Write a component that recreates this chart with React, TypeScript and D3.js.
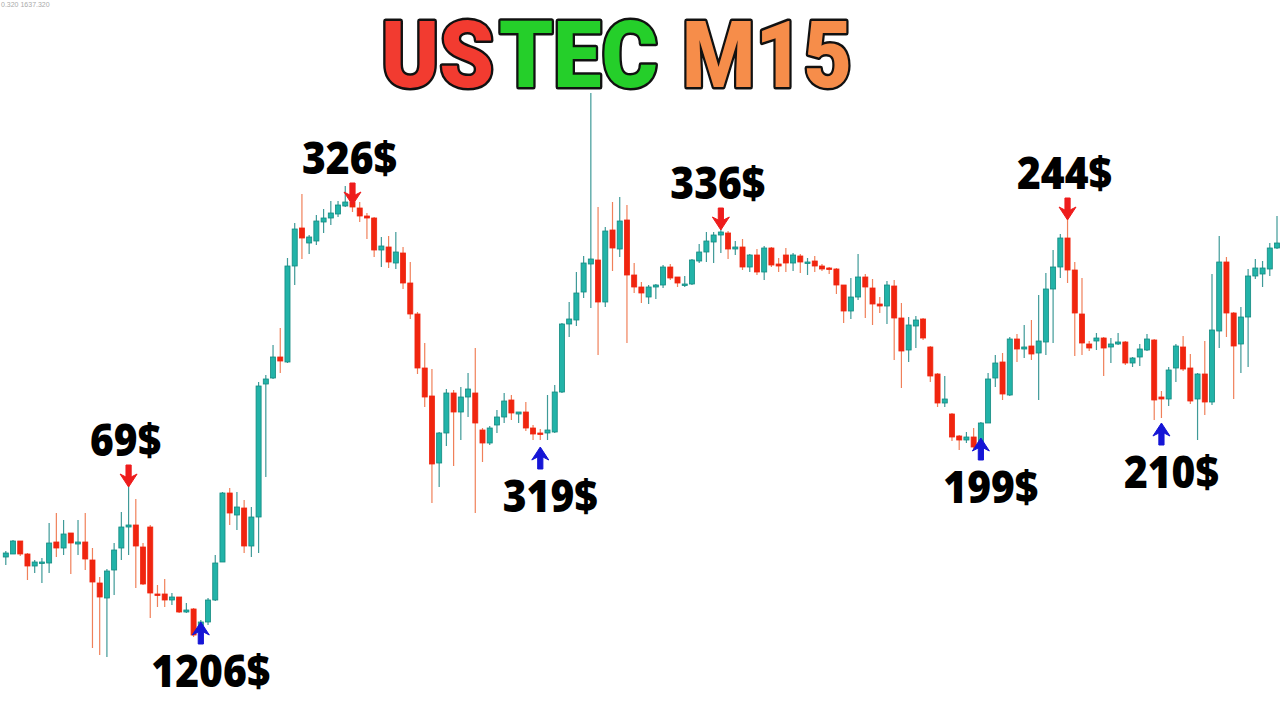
import React from "react";
import * as d3 from "d3";

// Candle levels (chart units: larger = lower on screen)
const opens = [557,554,541,554,566,563,563,542,548,533,544,542,560,583,598,570,548,527,525,547,527,594,594,600,597,612,609,627,622,600,562,493,515,508,546,517,384,378,357,362,266,228,243,241,222,218,214,206,202,208,216,218,250,247,263,253,283,314,368,396,463,433,393,412,397,393,430,443,425,417,400,414,412,428,433,433,432,392,324,320,292,264,260,302,230,249,220,275,287,297,287,285,267,277,284,284,261,252,242,235,233,249,247,267,255,272,248,264,255,263,256,263,261,266,268,269,285,311,297,277,288,304,306,286,318,350,326,319,347,374,403,414,436,440,437,443,423,378,362,395,339,349,346,353,342,289,267,238,270,314,344,341,338,347,344,342,363,357,350,340,397,399,368,347,368,399,374,402,331,262,313,344,317,276,274,269,248];
const highs = [551,540,541,553,560,558,523,513,520,533,520,513,548,577,569,543,512,483,499,543,525,585,579,593,597,603,608,620,598,555,492,488,492,500,507,382,375,345,328,258,223,194,235,215,209,201,201,186,193,202,213,217,237,236,232,247,262,312,343,369,432,389,390,387,373,348,428,426,410,393,395,412,402,425,429,395,385,323,302,272,256,93,207,227,202,197,205,263,282,285,284,265,264,277,276,259,244,232,232,228,231,241,239,254,249,246,247,258,248,253,254,258,256,264,267,268,285,278,254,274,279,297,281,280,303,317,316,318,346,373,376,413,435,432,428,422,373,355,353,337,334,325,320,295,273,250,234,220,262,278,341,333,337,338,333,341,357,344,334,339,391,367,344,336,354,373,341,274,236,257,312,307,269,259,261,243,216];
const lows = [565,554,556,580,573,583,573,557,555,574,555,570,648,655,657,595,560,555,588,585,618,607,607,605,613,613,637,635,625,601,562,525,530,553,557,553,477,379,373,363,285,259,254,245,233,225,217,207,212,222,239,257,267,268,269,289,319,374,407,503,487,446,466,440,417,513,462,445,433,423,420,423,431,440,440,440,433,393,337,326,298,308,355,307,271,257,343,293,303,304,299,288,280,287,287,285,263,262,263,253,259,255,270,272,275,280,267,272,272,271,273,275,272,271,274,294,323,319,300,318,325,313,324,360,388,362,348,340,382,407,407,441,450,443,450,447,423,387,400,396,362,358,360,400,355,343,278,283,356,355,351,350,376,363,345,365,367,366,351,420,418,406,382,371,404,440,415,405,348,337,399,373,367,279,287,276,249];
const closes = [553,541,554,566,562,562,543,548,534,543,542,559,582,597,571,550,527,525,546,584,593,595,600,597,612,610,635,622,600,563,493,513,507,546,517,386,379,357,361,266,229,238,237,221,218,213,205,202,207,216,218,250,246,262,252,283,314,368,397,464,433,393,412,397,389,423,443,428,417,401,413,412,428,434,434,430,392,324,319,293,263,259,302,231,248,221,275,287,293,287,285,267,278,283,284,260,252,241,235,232,249,247,267,255,272,248,265,266,263,255,262,262,266,269,269,285,311,297,277,287,304,306,285,318,351,325,320,338,376,403,399,437,440,437,447,423,379,363,394,339,349,347,354,341,289,267,238,270,313,343,348,338,348,344,342,363,358,349,339,400,399,370,346,369,401,374,402,330,262,313,346,317,276,268,268,248,243];

// Signals
const sellIndex = [17, 48, 99, 147];
const sellArrowTip = [487, 205, 230, 220];
const sellLabels = ["69$", "326$", "336$", "244$"];
const buyIndex = [27, 74, 135, 160];
const buyArrowTip = [622, 447, 438, 423];
const buyLabels = ["1206$", "319$", "199$", "210$"];

const titleParts = [
  { text: "US", color: "#f23b30", x: 381, len: 113 },
  { text: "TEC", color: "#25cf2a", x: 499, len: 159 },
  { text: "M15", color: "#f68d4a", x: 682, len: 170 },
];

const W = 1280, H = 720;
const TEAL = "#22b3a8", TEAL_DARK = "#138a80", TEAL_WICK = "#3f9a98";
const RED = "#f0250f", RED_WICK = "#f0805a";

function DownArrow({ x, tip }: { x: number; tip: number }) {
  const h = 22, w = 17, s = 2.6;
  const d = `M${x - s},${tip - h} L${x + s},${tip - h} L${x + s},${tip - 10} L${x + w / 2},${tip - 13} L${x},${tip} L${x - w / 2},${tip - 13} L${x - s},${tip - 10} Z`;
  return <path d={d} fill="#ee1c1c" stroke="#ee1c1c" strokeWidth={1} strokeLinejoin="round" />;
}
function UpArrow({ x, tip }: { x: number; tip: number }) {
  const h = 22, w = 17, s = 2.6;
  const d = `M${x - s},${tip + h} L${x + s},${tip + h} L${x + s},${tip + 10} L${x + w / 2},${tip + 13} L${x},${tip} L${x - w / 2},${tip + 13} L${x - s},${tip + 10} Z`;
  return <path d={d} fill="#1515d6" stroke="#1515d6" strokeWidth={1} strokeLinejoin="round" />;
}

export default function App() {
  const n = opens.length;
  const x = d3.scaleBand<number>().domain(d3.range(n)).range([1.1, 1281.7]).padding(0.3);
  const y = d3.scaleLinear().domain([0, 720]).range([0, 720]);
  const bw = x.bandwidth();
  const cx = (i: number) => (x(i) as number) + bw / 2;
  const labelFont = "'Open Sans', 'DejaVu Sans', sans-serif";
  const titleFont = "Roboto, 'Open Sans', sans-serif";

  return (
    <svg width={W} height={H} style={{ position: "absolute", left: 0, top: 0, background: "#fff" }}>
      <rect width={W} height={H} fill="#fff" />
      <text x={1} y={7} fontSize={7} fill="#aaa" fontFamily="sans-serif">0.320 1637.320</text>
      {d3.range(n).map((i) => {
        const up = closes[i] <= opens[i];
        const top = y(Math.min(opens[i], closes[i]));
        const bot = y(Math.max(opens[i], closes[i]));
        const hgt = Math.max(bot - top, 1.5);
        return (
          <g key={i}>
            <line x1={cx(i)} x2={cx(i)} y1={y(highs[i])} y2={y(lows[i])} stroke={up ? TEAL_WICK : RED_WICK} strokeWidth={1.2} />
            <rect x={x(i) as number} y={top} width={bw} height={hgt} fill={up ? TEAL : RED} stroke={up ? TEAL_DARK : RED} strokeWidth={0.8} />
          </g>
        );
      })}
      {sellIndex.map((idx, k) => (
        <g key={"s" + k}>
          <DownArrow x={cx(idx)} tip={y(sellArrowTip[k])} />
          <text x={cx(idx) - 3} y={y(sellArrowTip[k]) - 31} textAnchor="middle" fontFamily={labelFont} fontWeight={800} fontSize={44} fill="#000" textLength={sellLabels[k].length * 24 - 1} lengthAdjust="spacingAndGlyphs">{sellLabels[k]}</text>
        </g>
      ))}
      {buyIndex.map((idx, k) => (
        <g key={"b" + k}>
          <UpArrow x={cx(idx)} tip={y(buyArrowTip[k])} />
          <text x={cx(idx) + 10} y={y(buyArrowTip[k]) + 22 + 43} textAnchor="middle" fontFamily={labelFont} fontWeight={800} fontSize={44} fill="#000" textLength={buyLabels[k].length * 24 - 1} lengthAdjust="spacingAndGlyphs">{buyLabels[k]}</text>
        </g>
      ))}
      {titleParts.map((p, i) => (
        <text key={i} x={p.x} y={87} fontFamily={titleFont} fontWeight={900} fontSize={92} fill={p.color} stroke="#111" strokeWidth={5} strokeLinejoin="round" style={{ paintOrder: "stroke" }} textLength={p.len} lengthAdjust="spacingAndGlyphs">{p.text}</text>
      ))}
    </svg>
  );
}
